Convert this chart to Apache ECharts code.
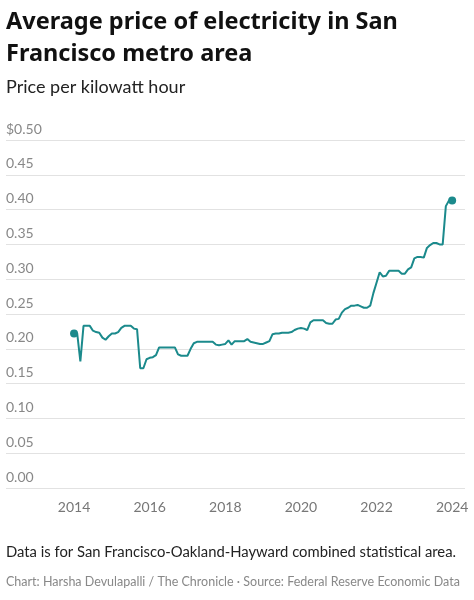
<!DOCTYPE html>
<html>
<head>
<meta charset="utf-8">
<script src="https://cdn.jsdelivr.net/npm/echarts@6/dist/echarts.min.js"></script>
<style>
  html, body { margin: 0; padding: 0; background: #fff; }
  #chart { width: 474px; height: 600px; }
</style>
</head>
<body>
<div id="chart"></div>
<script>
// Monthly prices, Jan 2014 .. Jan 2024
var startYear = 2014;
var prices = [
  0.222, 0.222, 0.182, 0.233, 0.233, 0.233, 0.226, 0.224, 0.223, 0.216, 0.213, 0.218,
  0.222, 0.222, 0.224, 0.230, 0.233, 0.233, 0.233, 0.229, 0.228, 0.172, 0.172, 0.185,
  0.187, 0.188, 0.191, 0.202, 0.202, 0.202, 0.202, 0.202, 0.202, 0.192, 0.190, 0.190,
  0.190, 0.200, 0.208, 0.210, 0.210, 0.210, 0.210, 0.210, 0.210, 0.206, 0.205, 0.206,
  0.207, 0.212, 0.206, 0.211, 0.211, 0.211, 0.211, 0.214, 0.210, 0.209, 0.208, 0.207,
  0.207, 0.209, 0.211, 0.221, 0.222, 0.222, 0.223, 0.223, 0.223, 0.224, 0.227, 0.229,
  0.230, 0.229, 0.227, 0.238, 0.241, 0.241, 0.241, 0.241, 0.237, 0.236, 0.236, 0.242,
  0.243, 0.252, 0.257, 0.259, 0.262, 0.262, 0.263, 0.261, 0.259, 0.259, 0.262, 0.280,
  0.295, 0.310, 0.304, 0.305, 0.312, 0.312, 0.312, 0.312, 0.308, 0.308, 0.314, 0.317,
  0.330, 0.332, 0.332, 0.331, 0.345, 0.349, 0.352, 0.352, 0.350, 0.350, 0.405, 0.413,
  0.413
];
var yearTicks = [2014, 2016, 2018, 2020, 2022, 2024];
var yTicks = [0, 0.05, 0.10, 0.15, 0.20, 0.25, 0.30, 0.35, 0.40, 0.45, 0.50];

var seriesData = prices.map(function (v, i) { return [startYear + i / 12, v]; });
var lineColor = '#1b8a8c';
var font = 'Lato, "Noto Sans", sans-serif';

var chart = echarts.init(document.getElementById('chart'));
chart.setOption({
  animation: false,
  textStyle: { fontFamily: font },
  title: [
    { text: 'Average price of electricity in San\nFrancisco metro area', left: 6, top: 6, padding: 0,
      textStyle: { fontFamily: '"Noto Sans", sans-serif', fontSize: 23.5, fontWeight: 'bold', color: '#111', lineHeight: 32 } },
    { text: 'Price per kilowatt hour', left: 6, top: 78, padding: 0,
      textStyle: { fontFamily: font, fontSize: 18, fontWeight: 'normal', color: '#222' } },
    { text: 'Data is for San Francisco-Oakland-Hayward combined statistical area.', left: 6, top: 545, padding: 0,
      textStyle: { fontFamily: font, fontSize: 14.8, fontWeight: 'normal', color: '#222' } },
    { text: 'Chart: Harsha Devulapalli / The Chronicle \u00b7 Source: Federal Reserve Economic Data', left: 6, top: 575, padding: 0,
      textStyle: { fontFamily: font, fontSize: 12.5, fontWeight: 'normal', color: '#888' } }
  ],
  grid: { left: 6, right: 9, top: 140, bottom: 112 },
  xAxis: {
    type: 'value', min: 2012.2, max: 2024.34,
    axisLine: { show: false }, axisTick: { show: false }, splitLine: { show: false },
    axisLabel: { customValues: yearTicks, color: '#777', fontSize: 14, margin: 12,
      formatter: function (v) { return String(Math.round(v)); } }
  },
  yAxis: {
    type: 'value', min: 0, max: 0.5, interval: 0.05,
    axisLine: { show: false }, axisTick: { show: false },
    splitLine: { lineStyle: { color: '#e2e2e2', width: 1 } },
    axisLabel: { inside: true, verticalAlign: 'bottom', margin: 0, padding: [0, 0, 4, 0],
      color: '#888', fontSize: 14,
      formatter: function (v) {
        var s = v.toFixed(2);
        return Math.abs(v - yTicks[yTicks.length - 1]) < 1e-9 ? '$' + s : s;
      } }
  },
  series: [
    { type: 'line', data: seriesData, showSymbol: false, z: 3,
      lineStyle: { color: lineColor, width: 2 } },
    { type: 'scatter', data: [seriesData[0], seriesData[seriesData.length - 1]],
      symbolSize: 8, itemStyle: { color: lineColor, opacity: 1 }, z: 4 }
  ]
});
</script>
</body>
</html>
